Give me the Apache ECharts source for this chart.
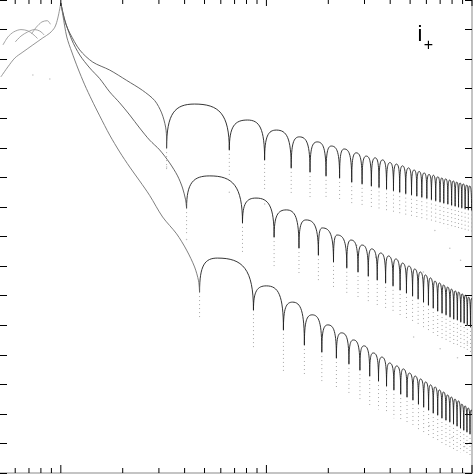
<!DOCTYPE html>
<html><head><meta charset="utf-8">
<script src="https://cdn.jsdelivr.net/npm/echarts@6/dist/echarts.min.js"></script>
<style>html,body{margin:0;padding:0;background:#fff}#c{width:474px;height:474px}</style>
</head><body><div id="c"></div>
<script>
// ---- axis ticks (x is logarithmic, y in decades) ----
const xTicks = [0.6,0.7,0.8,0.9,1,2,3,4,5,6,7,8,9,10,20,30,40,50,60,70,80,90,100];
const xMajor = [1,10,100];
const xMin = 0.506, xMax = 100, yMin = 0, yMax = 16;

// ---- top branch ----
const topDescent = [[1.0,15.9],[1.023,15.56],[1.057,15.19],[1.106,14.88],[1.236,14.31],[1.430,13.90],[1.729,13.63],[2.091,13.28],[2.500,12.94],[2.860,12.60],[3.093,12.18],[3.234,11.70],[3.27,11.26],[3.27,10.99]];
const topCusps = [3.27,6.6,9.8,13.2,16.3,19.5,22.7,26.0,29.2,32.4,35.3,38.4,41.5,44.5,47.6,50.8,53.9,57.0,60.3,63.5,66.6,69.9,72.9,76.3,79.6,82.8,86.0,89.2,92.6,96.0,99.5];
const topPeakX = [4.47,8.09,11.18,14.47,17.68,20.7,23.9,27.35,30.6,33.8,36.7,39.9,42.9,45.9,49.1,52.3,55.3,58.5,61.8,64.9,68.2,71.3,74.5,77.9,81.1,84.3,87.5,90.7,94.3,97.4];
const topPeakY = [12.48,11.94,11.60,11.37,11.20,11.06,10.96,10.83,10.72,10.66,10.59,10.50,10.45,10.39,10.32,10.25,10.20,10.15,10.10,10.07,10.02,9.98,9.95,9.91,9.88,9.84,9.81,9.78,9.74,9.71];
const topBottom = [10.99,10.93,10.59,10.32,10.18,10.05,9.98,9.84,9.78,9.71,9.66,9.60,9.55,9.50,9.45,9.41,9.37,9.33,9.29,9.25,9.21,9.17,9.13,9.10,9.06,9.03,9.00,8.97,8.94,8.91,8.88];
const topStreak = [10.18,9.98,9.57,9.40,9.30,9.24,9.17,9.07,9.00,8.90,8.85,8.80,8.75,8.70,8.65,8.60,8.56,8.52,8.48,8.44,8.40,8.36,8.32,8.28,8.25,8.22,8.19,8.16,8.13,8.10,8.07];

// ---- middle branch ----
const midDescent = [[1.0,15.9],[1.046,15.32],[1.131,14.65],[1.236,14.14],[1.383,13.70],[1.546,13.34],[1.729,12.89],[1.934,12.52],[2.163,12.11],[2.418,11.67],[2.704,11.26],[3.024,10.93],[3.382,10.49],[3.698,10.05],[3.910,9.64],[4.045,9.24],[4.09,8.96]];
const midCusps = [4.09,7.65,10.9,14.4,17.9,21.2,24.6,27.9,31.3,34.6,38.0,41.3,44.7,48.0,51.4,54.7,58.1,61.4,64.8,68.1,71.5,74.8,78.2,81.5,84.9,88.2,91.6,94.9,98.3,101.6];
const midPeakX = [5.3,8.9,12.5,15.6,18.7,22.1,25.8,29.2,32.5,35.9,39.2,42.6,45.9,49.3,52.6,56.0,59.3,62.7,66.0,69.4,72.7,76.1,79.4,82.8,86.1,89.5,92.8,96.2,99.6];
const midPeakY = [10.05,9.30,8.90,8.56,8.29,8.05,7.88,7.71,7.58,7.44,7.34,7.24,7.10,7.00,6.90,6.80,6.70,6.60,6.49,6.43,6.36,6.29,6.22,6.16,6.12,6.06,6.02,5.95,5.90];
const midBottom = [8.96,8.46,7.98,7.61,7.37,7.14,6.94,6.80,6.66,6.53,6.43,6.33,6.19,6.09,5.99,5.89,5.78,5.68,5.58,5.48,5.41,5.35,5.28,5.21,5.18,5.11,5.07,5.01,4.94,4.90];
const midStreak = [8.06,7.44,7.0,6.7,6.5,6.25,6.05,5.9,5.75,5.6,5.5,5.4,5.3,5.2,5.1,5.0,4.9,4.8,4.7,4.6,4.5,4.45,4.4,4.3,4.25,4.2,4.15,4.1,4.05,4.0];

// ---- bottom branch ----
const botDescent = [[1.0,15.9],[1.023,15.49],[1.069,14.75],[1.131,14.24],[1.209,13.70],[1.307,13.13],[1.414,12.62],[1.546,12.08],[1.729,11.43],[1.934,10.86],[2.163,10.35],[2.418,9.88],[2.704,9.39],[3.127,8.66],[3.657,8.09],[4.09,7.54],[4.473,6.97],[4.676,6.50],[4.73,6.12]];
const botCusps = [4.73,8.65,12.1,15.3,18.6,21.9,25.2,28.5,31.8,35.1,38.4,41.7,45.0,48.3,51.6,54.9,58.2,61.5,64.8,68.1,71.4,74.7,78.0,81.3,84.6,87.9,91.2,94.5,97.8,101.1];
const botPeakX = [5.78,10.0,13.4,16.7,19.9,23.2,26.5,29.8,33.1,36.4,39.7,43.0,46.3,49.6,52.9,56.2,59.5,62.8,66.1,69.4,72.7,76.0,79.3,82.6,85.9,89.2,92.5,95.8,99.1];
const botPeakY = [7.27,6.33,5.78,5.35,5.01,4.74,4.50,4.30,4.06,3.92,3.72,3.62,3.52,3.38,3.28,3.18,3.08,2.98,2.91,2.81,2.74,2.64,2.57,2.50,2.44,2.33,2.27,2.20,2.13];
const botBottom = [6.12,5.51,4.84,4.33,4.09,3.89,3.69,3.48,3.28,3.11,2.94,2.81,2.67,2.57,2.47,2.33,2.23,2.13,2.03,1.96,1.86,1.79,1.73,1.66,1.59,1.52,1.45,1.39,1.32,1.25];
const botStreak = [5.18,4.16,3.38,3.3,3.1,2.9,2.7,2.5,2.3,2.15,2.0,1.85,1.75,1.65,1.55,1.45,1.35,1.25,1.15,1.05,0.95,0.9,0.85,0.8,0.75,0.7,0.65,0.6,0.55,0.5];

// ---- small loops left of the summit ----
const loopA = [[0.523,14.48],[0.553,14.75],[0.590,14.92],[0.640,15.0],[0.69,14.96],[0.73,14.85],[0.77,14.7]];
const loopB = [[0.60,14.58],[0.64,14.78],[0.69,14.92],[0.745,15.0],[0.79,14.95],[0.83,14.82]];
const loopC = [[0.72,14.85],[0.76,15.08],[0.81,15.26],[0.86,15.3],[0.89,15.18]];
const loopLine = [[0.511,13.40],[0.553,13.74],[0.598,14.04],[0.654,14.24],[0.731,14.48],[0.818,14.72],[0.884,14.88],[0.935,15.08],[0.967,15.39],[1.0,15.9]];
// ---- isolated sample points ----
const strayPts = [[0.731,13.46],[0.884,13.33],[3.27,10.35],[4.09,7.9],[6.6,9.5],[9.8,9.1],[27.5,7.7],[34,7.3],[45,7.0],[58,6.8],[66,8.2],[78,7.6],[88,7.2],[52,4.6],[70,4.2],[85,3.9],[95,4.4],[62,1.6],[80,1.2],[92,0.9]];

function archData(c, px, py, b) {
  const out = [];
  for (let i = 0; i < px.length; i++) out.push([c[i], b[i], px[i], py[i], c[i+1], b[i+1]]);
  return out;
}
function streakData(c, b, s) { return c.map((x, i) => [x, b[i], s[i]]); }

const chart = echarts.init(document.getElementById('c'), null, {renderer: 'canvas'});

function archItem(params, api) {
  const L = api.coord([api.value(0), api.value(1)]);
  const P = api.coord([api.value(2), api.value(3)]);
  const R = api.coord([api.value(4), api.value(5)]);
  const st = {stroke: '#1e1e1e', fill: null, lineWidth: 0.9};
  return {type: 'group', children: [
    {type: 'bezierCurve', shape: {x1: L[0], y1: L[1], cpx1: L[0], cpy1: P[1] + 0.2 * (L[1] - P[1]), cpx2: L[0] + 0.3 * (P[0] - L[0]), cpy2: P[1], x2: P[0], y2: P[1]}, style: st},
    {type: 'bezierCurve', shape: {x1: P[0], y1: P[1], cpx1: R[0] - 0.3 * (R[0] - P[0]), cpy1: P[1], cpx2: R[0], cpy2: P[1] + 0.2 * (R[1] - P[1]), x2: R[0], y2: R[1]}, style: st}
  ]};
}
function streakItem(params, api) {
  const a = api.coord([api.value(0), api.value(1)]);
  const b = api.coord([api.value(0), api.value(2)]);
  return {type: 'line', shape: {x1: a[0], y1: a[1], x2: b[0], y2: b[1]}, style: {stroke: '#a6a6a6', lineWidth: 1, lineDash: [1, 3]}};
}
function tickItem(params, api) {
  const x = api.value(0);
  const major = xMajor.indexOf(x) >= 0;
  const b = api.coord([x, yMin]);
  const t = api.coord([x, yMax]);
  const st = {stroke: '#000', lineWidth: 1};
  return {type: 'group', children: [
    {type: 'line', shape: {x1: b[0], y1: b[1], x2: b[0], y2: b[1] - (major ? 8 : 5)}, style: st},
    {type: 'line', shape: {x1: t[0], y1: t[1], x2: t[0], y2: t[1] + (major ? 6 : 4)}, style: st}
  ]};
}

function arches(name, c, px, py, b) {
  return {name, type: 'custom', renderItem: archItem, clip: true, silent: true,
    encode: {x: [0, 2, 4], y: [1, 3, 5]}, data: archData(c, px, py, b), z: 3};
}
function streaks(name, c, b, s) {
  return {name, type: 'custom', renderItem: streakItem, clip: true, silent: true,
    encode: {x: 0, y: [1, 2]}, data: streakData(c, b, s), z: 2};
}
function descent(name, d, color) {
  return {name, type: 'line', data: d, smooth: 0.3, symbol: 'none', clip: true, silent: true,
    lineStyle: {color, width: 0.9}, z: 3};
}

const yAxisBase = {type: 'value', min: yMin, max: yMax, interval: 1,
  axisLabel: {show: false}, splitLine: {show: false},
  axisTick: {show: true, inside: true, length: 7, lineStyle: {color: '#000', width: 1}}};

chart.setOption({
  animation: false,
  backgroundColor: '#fff',
  grid: {left: 0, top: 0, width: 472, height: 473, containLabel: false},
  xAxis: {type: 'log', min: xMin, max: xMax, logBase: 10,
    axisLine: {show: true, lineStyle: {color: '#c4c4c4', width: 2}},
    axisTick: {show: false}, axisLabel: {show: false}, splitLine: {show: false}, minorTick: {show: false}},
  yAxis: [
    Object.assign({}, yAxisBase, {position: 'left', axisLine: {show: false}}),
    Object.assign({}, yAxisBase, {position: 'right', axisLine: {show: true, lineStyle: {color: '#c4c4c4', width: 2}}})
  ],
  graphic: [
    {type: 'text', x: 420, y: 35, style: {text: 'i', fontSize: 22, fontFamily: 'Liberation Sans', fill: '#000', align: 'center', verticalAlign: 'middle'}},
    {type: 'text', x: 428.5, y: 46, style: {text: '+', fontSize: 16, fontFamily: 'Liberation Sans', fill: '#000', align: 'center', verticalAlign: 'middle'}}
  ],
  series: [
    {name: 'ticks', type: 'custom', renderItem: tickItem, clip: false, silent: true, data: xTicks.map(v => [v]), encode: {x: 0}, z: 5},
    descent('top-descent', topDescent, '#555'),
    descent('mid-descent', midDescent, '#555'),
    descent('bot-descent', botDescent, '#707070'),
    descent('loop-line', loopLine, '#8a8a8a'),
    descent('loop-a', loopA, '#9a9a9a'),
    descent('loop-b', loopB, '#9a9a9a'),
    descent('loop-c', loopC, '#9a9a9a'),
    arches('top-arches', topCusps, topPeakX, topPeakY, topBottom),
    arches('mid-arches', midCusps, midPeakX, midPeakY, midBottom),
    arches('bot-arches', botCusps, botPeakX, botPeakY, botBottom),
    streaks('top-streaks', topCusps, topBottom, topStreak),
    streaks('mid-streaks', midCusps, midBottom, midStreak),
    streaks('bot-streaks', botCusps, botBottom, botStreak),
    {name: 'stray', type: 'scatter', data: strayPts, symbolSize: 1.5, itemStyle: {color: '#b0b0b0'}, silent: true, z: 2}
  ]
});
</script>
</body></html>
